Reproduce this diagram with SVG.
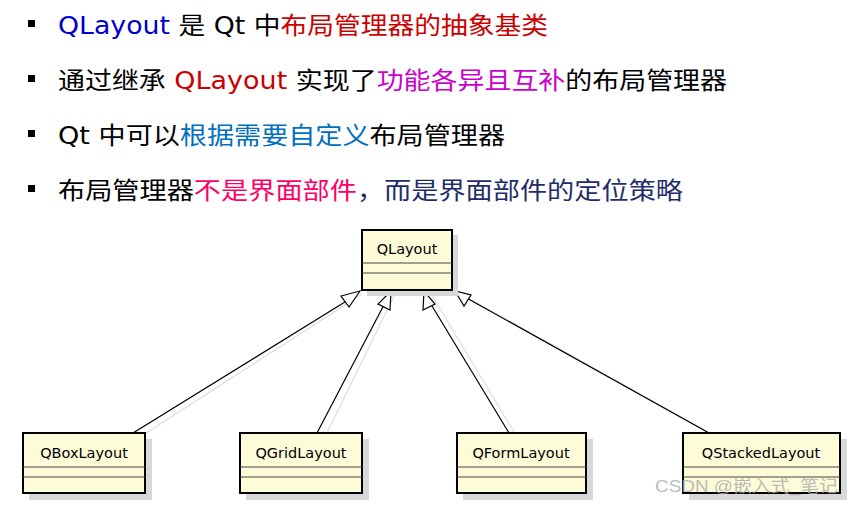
<svg xmlns="http://www.w3.org/2000/svg" width="852" height="506" viewBox="0 0 852 506">
<style>
.t{font-family:"DejaVu Sans","Noto Sans CJK SC",sans-serif;font-size:24px;fill:#000}
.b{fill:#000}
.box{fill:#fefbd8;stroke:#000;stroke-width:2}
.sh{fill:#d8d8d8}
.dv{stroke:#444;stroke-width:1}
.n{font-family:"DejaVu Sans",sans-serif;font-size:14.5px;text-anchor:middle}
.c{stroke:#000;stroke-width:1.2;fill:none}
.g{stroke:#ddd;stroke-width:1.2;fill:none}
.ah{fill:#fff;stroke:#000;stroke-width:1.2}
</style>
<rect width="852" height="506" fill="#fff"/>
<g id="text">
<rect class="b" x="28" y="20" width="7" height="7"/>
<text class="t" x="58" y="34" textLength="490" lengthAdjust="spacingAndGlyphs"><tspan fill="#0000cc">QLayout</tspan> 是 Qt 中<tspan fill="#cc0000">布局管理器的抽象基类</tspan></text>
<rect class="b" x="28" y="75" width="7" height="7"/>
<text class="t" x="58" y="89" textLength="669" lengthAdjust="spacingAndGlyphs">通过继承 <tspan fill="#cc0000">QLayout</tspan> 实现了<tspan fill="#cc00cc">功能各异且互补</tspan>的布局管理器</text>
<rect class="b" x="28" y="130" width="7" height="7"/>
<text class="t" x="58" y="144" textLength="447" lengthAdjust="spacingAndGlyphs">Qt 中可以<tspan fill="#0070c0">根据需要自定义</tspan>布局管理器</text>
<rect class="b" x="28" y="185" width="7" height="7"/>
<text class="t" x="58" y="199" textLength="625" lengthAdjust="spacingAndGlyphs">布局管理器<tspan fill="#ff0066">不是界面部件</tspan><tspan fill="#1f2d6b">，而是界面部件的定位策略</tspan></text>
</g>
<g id="connectors">
<line class="g" x1="140" y1="437" x2="362" y2="294"/>
<line class="g" x1="325" y1="437" x2="395" y2="294"/>
<line class="g" x1="517" y1="437" x2="431" y2="294"/>
<line class="g" x1="717" y1="437" x2="461" y2="294"/>
<line class="c" x1="133" y1="433" x2="353" y2="297"/>
<polygon class="ah" points="360,291 341,296 349,307"/>
<line class="c" x1="317" y1="433" x2="386" y2="301"/>
<polygon class="ah" points="391,291 378,304 390,310"/>
<line class="c" x1="509" y1="433" x2="429" y2="301"/>
<polygon class="ah" points="424,291 423,310 435,304"/>
<line class="c" x1="709" y1="433" x2="463" y2="296"/>
<polygon class="ah" points="455,291 464,306 471,295"/>
</g>
<g id="QLayout">
<rect class="sh" x="367" y="235" width="91" height="61"/>
<rect class="box" x="362" y="230" width="90" height="60"/>
<text class="n" x="407" y="254">QLayout</text>
<line class="dv" x1="362" y1="263" x2="452" y2="263"/><line class="dv" x1="362" y1="273" x2="452" y2="273"/>
</g>
<g id="QBoxLayout">
<rect class="sh" x="29" y="439" width="123" height="61"/>
<rect class="box" x="23" y="433" width="122" height="60"/>
<text class="n" x="84" y="458">QBoxLayout</text>
<line class="dv" x1="23" y1="467" x2="145" y2="467"/><line class="dv" x1="23" y1="477" x2="145" y2="477"/>
</g>
<g id="QGridLayout">
<rect class="sh" x="246" y="439" width="123" height="61"/>
<rect class="box" x="240" y="433" width="122" height="60"/>
<text class="n" x="301" y="458">QGridLayout</text>
<line class="dv" x1="240" y1="467" x2="362" y2="467"/><line class="dv" x1="240" y1="477" x2="362" y2="477"/>
</g>
<g id="QFormLayout">
<rect class="sh" x="463" y="439" width="130" height="61"/>
<rect class="box" x="457" y="433" width="129" height="60"/>
<text class="n" x="521" y="458">QFormLayout</text>
<line class="dv" x1="457" y1="467" x2="586" y2="467"/><line class="dv" x1="457" y1="477" x2="586" y2="477"/>
</g>
<g id="QStackedLayout">
<rect class="sh" x="689" y="439" width="158" height="61"/>
<rect class="box" x="683" y="433" width="157" height="60"/>
<text class="n" x="761" y="458">QStackedLayout</text>
<line class="dv" x1="683" y1="467" x2="840" y2="467"/><line class="dv" x1="683" y1="477" x2="840" y2="477"/>
</g>
<text x="655" y="492" font-family="Liberation Sans,'Noto Sans CJK SC',sans-serif" font-size="17" fill="#aaa" fill-opacity="0.8" textLength="183" lengthAdjust="spacingAndGlyphs">CSDN @嵌入式_笔记</text>
</svg>
